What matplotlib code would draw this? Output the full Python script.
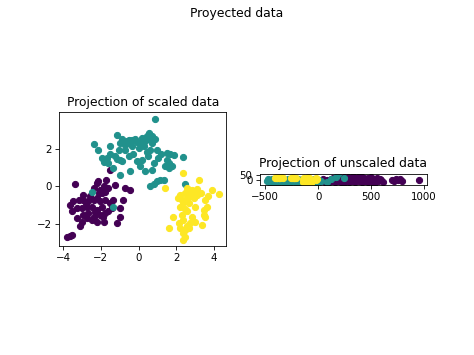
import matplotlib
matplotlib.use("Agg")
import matplotlib.pyplot as plt

# ---- data: projection of scaled data (x, y) per class ----
scaled_class0 = [
    (-1.54, 0.85), (-1.72, 0.36), (-2.13, 0.27), (-2.22, 0.18), (-1.86, 0.04),
    (-2.39, -0.09), (-2.04, -0.18), (-3.37, 0.14), (-2.93, -0.44), (-2.57, -0.53),
    (-2.22, -0.62), (-1.95, -0.36), (-1.77, -0.27), (-1.60, -0.09), (-1.24, 0.09),
    (-0.71, -0.09), (-0.44, -0.21), (-3.63, -0.98), (-3.46, -0.80), (-3.19, -0.71),
    (-2.93, -0.71), (-2.66, -0.80), (-2.39, -0.71), (-2.04, -0.80), (-1.77, -0.71),
    (-1.51, -0.89), (-1.33, -0.71), (-3.55, -1.33), (-3.28, -1.16), (-3.01, -1.16),
    (-2.75, -1.07), (-2.48, -1.07), (-2.22, -1.24), (-1.95, -1.07), (-1.42, -1.16),
    (-0.98, -1.16), (-3.28, -1.69), (-2.93, -1.51), (-2.66, -1.42), (-2.39, -1.60),
    (-2.04, -1.51), (-1.77, -1.42), (-0.98, -1.60), (-0.80, -0.71), (-3.10, -2.13),
    (-2.75, -1.69), (-2.48, -1.78), (-2.22, -1.87), (-1.86, -1.87), (-1.15, -1.96),
    (-3.81, -2.70), (-3.63, -2.63), (-3.55, -2.58), (-2.80, -0.90), (-2.30, -1.35),
    (-1.60, -1.30), (-3.00, -1.90), (-2.10, -0.35), (-1.90, -1.65),
]
scaled_class1 = [
    (0.89, 3.61), (0.57, 2.84), (0.44, 2.70), (-1.15, 2.72), (-0.89, 2.52),
    (-0.53, 2.49), (-0.35, 2.45), (-0.18, 2.52), (-0.09, 2.35), (-2.39, 2.28),
    (-1.51, 2.13), (-0.98, 2.31), (-0.71, 2.22), (-0.44, 2.31), (0.09, 2.31),
    (0.35, 2.40), (0.53, 2.52), (0.71, 2.31), (0.89, 2.52), (-2.13, 1.96),
    (-1.51, 1.74), (-1.06, 1.96), (-0.71, 1.96), (-0.35, 2.13), (0.00, 2.04),
    (0.27, 2.13), (0.62, 1.96), (0.98, 1.96), (1.51, 1.78), (1.68, 1.74),
    (1.90, 1.69), (2.36, 1.56), (-1.95, 1.51), (-1.86, 1.28), (-1.60, 1.24),
    (-1.15, 1.46), (-0.98, 1.42), (-0.89, 1.33), (-0.53, 1.60), (-0.09, 1.33),
    (0.18, 1.42), (0.53, 1.60), (1.06, 1.51), (1.51, 1.42), (1.60, 1.24),
    (1.77, 1.07), (-1.33, 0.98), (-0.98, 0.62), (-0.44, 0.80), (0.09, 1.07),
    (0.35, 0.80), (0.71, 0.89), (0.80, 1.24), (1.60, 0.98), (0.62, 0.04),
    (0.80, 0.14), (0.98, 0.27), (1.15, 0.32), (1.33, 0.36), (2.48, 0.14),
    (-2.48, -0.27), (-1.33, -1.07), (-0.62, 2.40), (0.45, 1.85), (-1.25, 1.60),
    (0.20, 2.60), (-0.30, 1.70), (1.20, 1.70), (0.70, 2.70), (-1.70, 1.50),
    (1.40, 1.10),
]
scaled_class2 = [
    (1.42, -0.09), (2.36, 0.71), (3.24, 0.36), (2.22, -0.44), (2.48, -0.36),
    (2.66, -0.27), (2.84, -0.18), (3.01, -0.27), (3.10, -0.44), (2.93, -0.62),
    (2.75, -0.53), (2.57, -0.62), (2.30, -0.71), (3.10, -0.14), (3.90, -0.21),
    (4.26, -0.41), (3.72, -0.53), (3.55, -0.71), (3.63, -1.07), (2.22, -1.07),
    (2.39, -0.89), (2.66, -0.89), (3.01, -1.07), (3.46, -1.24), (2.30, -1.51),
    (2.57, -1.33), (2.84, -1.60), (3.46, -1.51), (3.55, -1.64), (1.86, -1.64),
    (2.13, -1.96), (2.39, -1.78), (2.75, -1.96), (3.37, -2.04), (3.01, -1.87),
    (1.60, -2.22), (2.22, -2.22), (2.48, -2.31), (2.39, -2.49), (2.48, -2.67),
    (2.57, -2.13), (2.60, -0.10), (2.90, -0.40), (3.30, -0.35), (2.45, -1.20),
    (2.10, -0.60), (2.70, -2.20), (2.35, -2.85),
]

# ---- data: projection of unscaled data (x, y) per class ----
unscaled_class0 = [
    (25, -5), (45, 10), (62, -15), (85, 5), (100, -20), (118, 12), (130, -8),
    (142, 20), (155, 0), (163, -18), (175, 8), (186, -10), (195, 25), (205, -2),
    (214, 15), (226, -22), (235, 5), (244, 30), (255, -12), (262, 10), (274, -5),
    (283, 35), (292, -15), (305, 8), (312, 22), (324, -8), (333, 40), (345, 0),
    (352, -20), (365, 15), (372, 30), (384, -10), (393, 5), (405, 38), (412, -18),
    (425, 12), (433, 25), (446, -5), (455, 8), (467, -15), (474, 20), (486, 2),
    (495, 32), (507, -10), (515, 10), (528, -40), (540, 5), (556, 18), (568, -8),
    (582, 12), (596, 0), (612, -12), (700, 5), (718, -8), (735, 12), (758, 0),
    (775, 8), (790, -5), (952, 0),
]
unscaled_class1 = [
    (-480, -5), (-470, 10), (-462, -15), (-455, 5), (-448, -20), (-440, 0),
    (-432, 15), (-425, -10), (-418, 5), (-410, -25), (-402, -5), (-395, 10),
    (-388, -15), (-380, 0), (-372, -20), (-365, 5), (-358, -8), (-350, 12),
    (-342, -3), (-335, -18), (-328, 8), (-320, -12), (-312, 2), (-305, -22),
    (-298, 6), (-290, -6), (-282, 14), (-275, -14), (-268, 0), (-260, -20),
    (-252, 8), (-245, -4), (-238, 16), (-230, -10), (-222, 2), (-215, -16),
    (-208, 6), (-200, -2), (-192, -24), (-185, 10), (-178, -8), (-170, 0),
    (-162, -12), (-155, 4), (-148, -18), (-140, 8), (-132, -6), (-125, -20),
    (-118, 2), (-110, -10), (-102, 12), (-95, -4), (-88, -16), (-80, 6),
    (-72, -8), (-65, -22), (-58, 2), (-50, -12), (-42, 8), (-35, -4),
    (-28, -18), (-20, 4), (-12, -8), (-5, -26), (5, 0), (30, -10), (80, -20),
    (120, 15), (165, 35), (185, 58), (240, 20),
]
unscaled_class2 = [
    (-405, 22), (-395, 28), (-385, 20), (-375, 26), (-365, 24), (-355, 20),
    (-345, 27), (-335, 22), (-400, 18), (-390, 24), (-370, 18), (-350, 30),
    (-258, 24), (-248, 20), (-238, 27), (-228, 22), (-218, 25), (-212, 19),
    (-240, 22), (-225, 18),
    (-145, 10), (-140, -15), (-135, 22), (-128, 0), (-122, -20), (-118, 15),
    (-112, -8), (-108, 25), (-102, 5), (-98, -18), (-92, 12), (-88, -5),
    (-84, 20), (-80, -12), (-76, 2), (-72, 15), (-70, -22), (-125, 12),
    (-95, 28), (-110, -25), (-130, 25), (-100, -25), (-90, 0), (-115, 5),
    (-25, 8), (-18, -2), (-12, 12), (-20, 18),
]

class_colors = ["#440154", "#21918c", "#fde725"]
panel_titles = ["Projection of scaled data", "Projection of unscaled data"]
suptitle_text = "Proyected data"

fig = plt.figure(figsize=(474 / 74, 355 / 74), dpi=74)
fig.suptitle(suptitle_text)

panels = [
    [scaled_class0, scaled_class1, scaled_class2],
    [unscaled_class0, unscaled_class1, unscaled_class2],
]
for i, classes in enumerate(panels):
    ax = fig.add_subplot(1, 2, i + 1)
    for pts, col in zip(classes, class_colors):
        xs = [p[0] for p in pts]
        ys = [p[1] for p in pts]
        ax.scatter(xs, ys, color=col)
    ax.set_title(panel_titles[i])
    ax.set_aspect("equal")

fig.savefig("out.png", dpi=74)
